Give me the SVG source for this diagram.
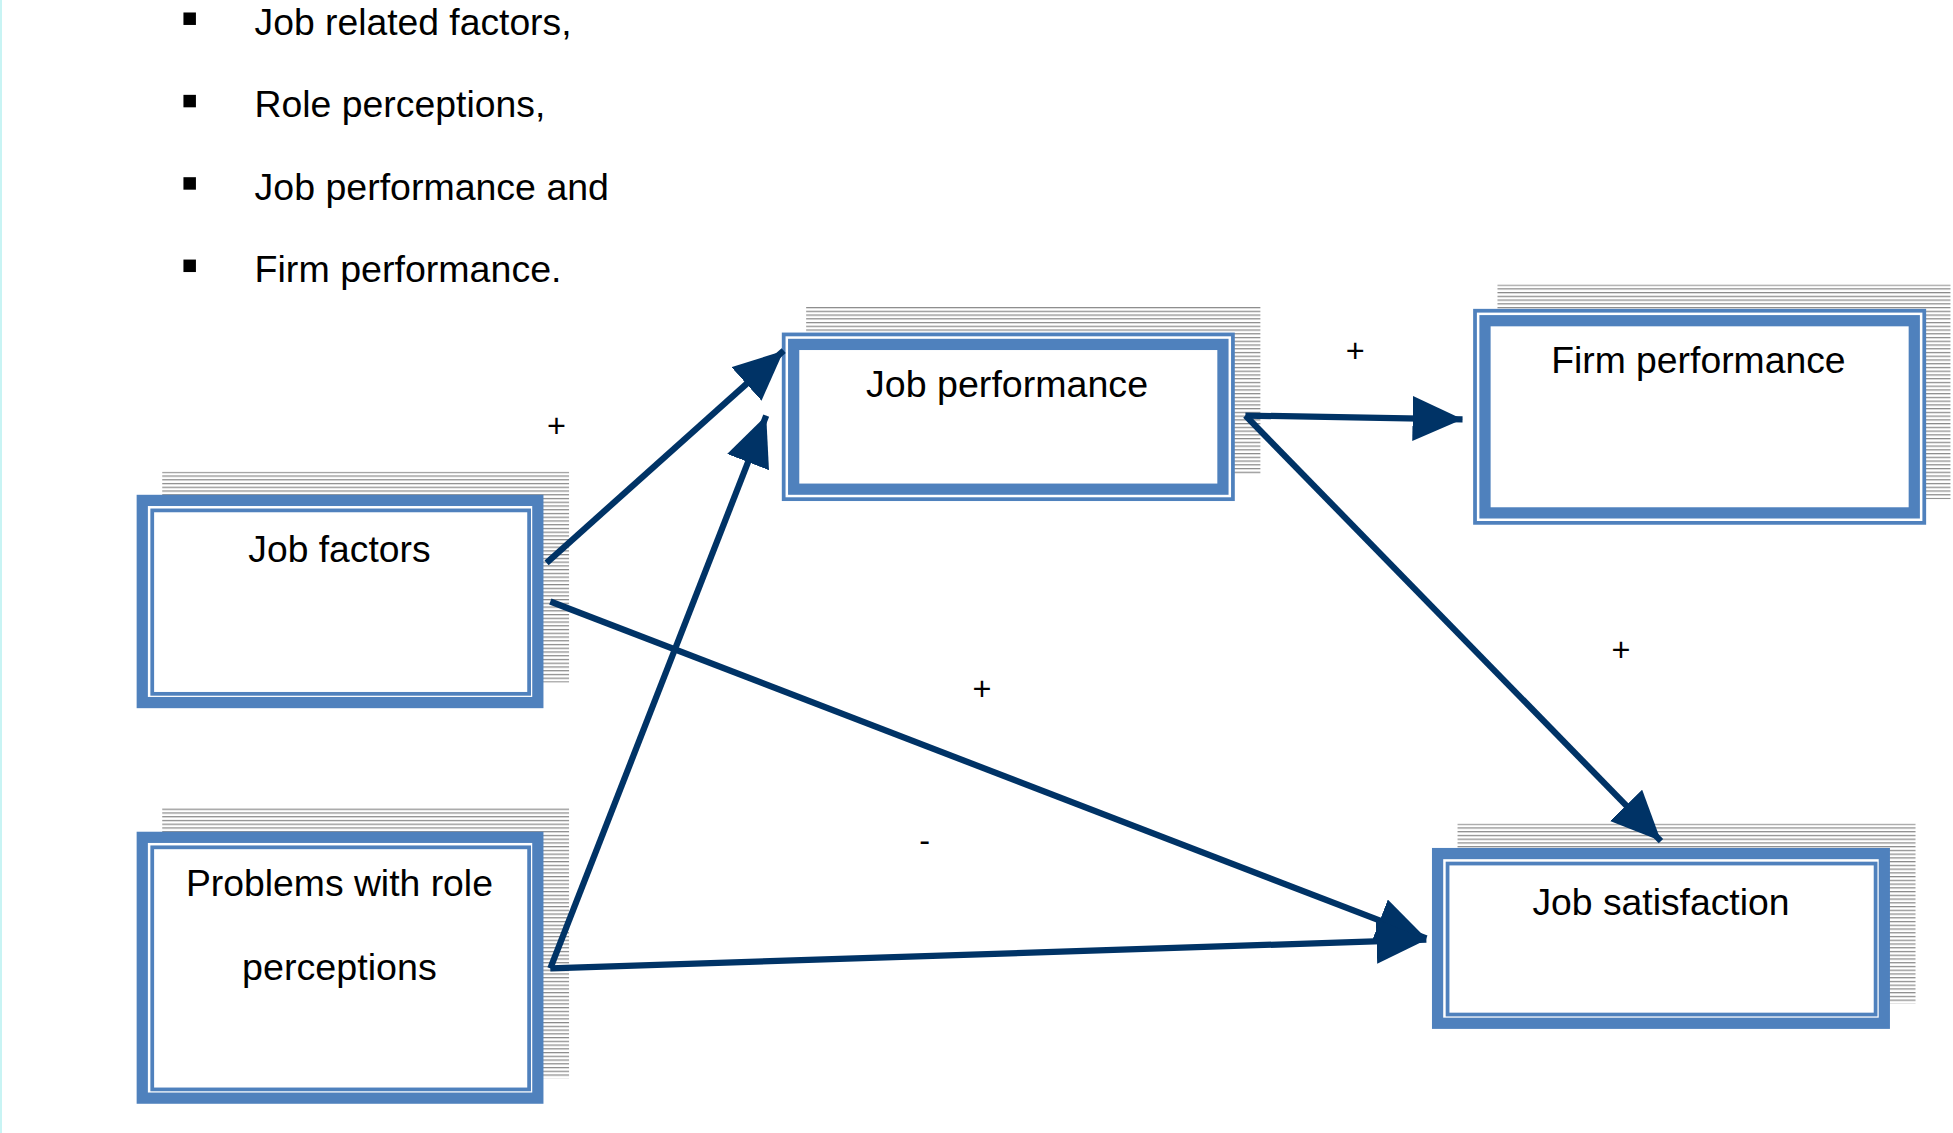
<svg xmlns="http://www.w3.org/2000/svg" width="1953" height="1133" viewBox="0 0 1953 1133">
<defs>
<pattern id="hatch" width="4" height="3" patternUnits="userSpaceOnUse"><rect width="4" height="1" fill="#8a8a8a"/></pattern>
<marker id="ah" markerUnits="userSpaceOnUse" markerWidth="44" markerHeight="40" refX="40" refY="18" orient="auto"><path d="M0,0 L40,18 L0,36 Z" fill="#003366"/></marker>
</defs>
<style>
.t{font-family:"Liberation Sans",Arial,sans-serif;font-size:30px;fill:#000}
.c{text-anchor:middle}
.sh{fill:url(#hatch)}
.thick{fill:#fff;stroke:#4f81bd;stroke-width:9}
.thin{fill:none;stroke:#4f81bd;stroke-width:3}
.thinw{fill:#fff;stroke:#4f81bd;stroke-width:3}
.thickn{fill:none;stroke:#4f81bd;stroke-width:9}
.ln{stroke:#003366;stroke-width:5;fill:none}
</style>
<rect width="1953" height="1133" fill="#fff"/>
<rect x="0" y="0" width="2" height="1133" fill="#c8f4f4"/>
<g transform="scale(1.2479)">
<g id="bullets">
<rect x="147" y="10" width="10" height="10"/><rect x="147" y="76" width="10" height="10"/><rect x="147" y="142" width="10" height="10"/><rect x="147" y="208" width="10" height="10"/>
<text class="t" x="204" y="28" textLength="254" lengthAdjust="spacingAndGlyphs">Job related factors,</text>
<text class="t" x="204" y="94" textLength="233" lengthAdjust="spacingAndGlyphs">Role perceptions,</text>
<text class="t" x="204" y="160" textLength="284" lengthAdjust="spacingAndGlyphs">Job performance and</text>
<text class="t" x="204" y="226" textLength="246" lengthAdjust="spacingAndGlyphs">Firm performance.</text>
</g>
<g id="jobfactors">
<rect class="sh" x="130" y="378" width="326" height="169"/>
<rect class="thick" x="114" y="401" width="317" height="162"/>
<rect class="thin" x="122" y="409" width="302" height="147"/>
<text class="t c" x="272" y="450" textLength="146" lengthAdjust="spacingAndGlyphs">Job factors</text>
</g>
<g id="problems">
<rect class="sh" x="130" y="647" width="326" height="217"/>
<rect class="thick" x="114" y="671" width="317" height="209"/>
<rect class="thin" x="122" y="679" width="302" height="194"/>
<text class="t c" x="272" y="718" textLength="246" lengthAdjust="spacingAndGlyphs">Problems with role</text>
<text class="t c" x="272" y="785" textLength="156" lengthAdjust="spacingAndGlyphs">perceptions</text>
</g>
<g id="jobperformance">
<rect class="sh" x="646" y="246" width="364" height="134"/>
<rect class="thinw" x="628" y="268" width="360" height="132"/>
<rect class="thickn" x="636" y="276" width="344" height="116"/>
<text class="t c" x="807" y="318" textLength="226" lengthAdjust="spacingAndGlyphs">Job performance</text>
</g>
<g id="firmperformance">
<rect class="sh" x="1200" y="228" width="363" height="172"/>
<rect class="thinw" x="1182" y="249" width="360" height="170"/>
<rect class="thickn" x="1190" y="257" width="344" height="154"/>
<text class="t c" x="1361" y="299" textLength="236" lengthAdjust="spacingAndGlyphs">Firm performance</text>
</g>
<g id="jobsatisfaction">
<rect class="sh" x="1168" y="660" width="367" height="144"/>
<rect class="thick" x="1152" y="684" width="358" height="136"/>
<rect class="thin" x="1160" y="692" width="343" height="121"/>
<text class="t c" x="1331" y="733" textLength="206" lengthAdjust="spacingAndGlyphs">Job satisfaction</text>
</g>
<g id="connectors">
<line class="ln" x1="438" y1="451" x2="628" y2="281" marker-end="url(#ah)"/>
<line class="ln" x1="441" y1="482" x2="1143" y2="752" marker-end="url(#ah)"/>
<line class="ln" x1="441" y1="776" x2="614" y2="333" marker-end="url(#ah)"/>
<line class="ln" x1="441" y1="776" x2="1143" y2="753" marker-end="url(#ah)"/>
<line class="ln" x1="998" y1="333" x2="1172" y2="336" marker-end="url(#ah)"/>
<line class="ln" x1="998" y1="333" x2="1331" y2="674" marker-end="url(#ah)"/>
</g>
<g id="labels">
<text class="t c" x="446" y="350" style="font-size:26px">+</text>
<text class="t c" x="1086" y="290" style="font-size:26px">+</text>
<text class="t c" x="787" y="561" style="font-size:26px">+</text>
<text class="t c" x="1299" y="530" style="font-size:26px">+</text>
<text class="t c" x="741" y="683" style="font-size:26px">-</text>
</g>
</g>
</svg>
